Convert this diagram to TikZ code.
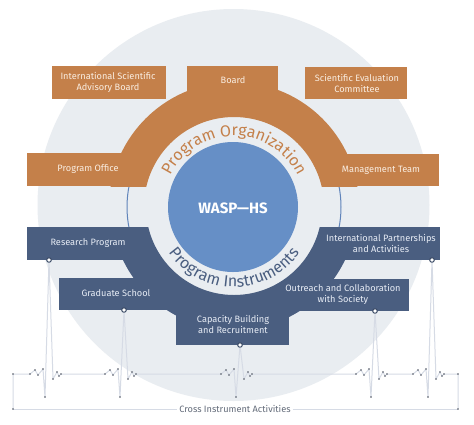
\documentclass[tikz,border=0pt]{standalone}
\usepackage{fontspec}
\setmainfont{Fira Sans}
\usetikzlibrary{decorations.text}
\definecolor{orng}{RGB}{196,128,74}
\definecolor{navy}{RGB}{74,94,128}
\definecolor{diskc}{RGB}{102,143,198}
\definecolor{bgc}{RGB}{233,237,241}
\definecolor{ringc}{RGB}{96,132,186}
\definecolor{ecg}{RGB}{214,219,229}
\definecolor{dotc}{RGB}{80,86,98}
\definecolor{otxt}{RGB}{250,238,226}
\definecolor{btxt}{RGB}{232,237,246}
\definecolor{gtxt}{RGB}{100,108,122}
\newcommand\orgfont{\fontsize{16}{16}\selectfont}
\tikzset{
  otext/.style={text=otxt, align=center, font=\fontsize{9.2}{11}\selectfont, inner sep=0pt},
  btext/.style={text=btxt, align=center, font=\fontsize{9.2}{11}\selectfont, inner sep=0pt},
  ecgline/.style={draw=ecg, line width=1pt, line join=round},
  vdot/.style={fill=dotc},
  boxdot/.style={circle, draw=navy!80!black, fill=white, line width=0.9pt, inner sep=0pt, minimum size=4.4pt},
}
\begin{document}
\begin{tikzpicture}[x=1pt,y=-1pt]
\useasboundingbox (0,0) rectangle (474,424);
\fill[white] (0,0) rectangle (474,424);
% big background circle
\fill[bgc] (233.5,205) circle[radius=196];
% thin ring
\draw[ringc, line width=1pt] (234,207) circle[radius=107];
% orange band
\begin{scope}
  \clip (0,0) rectangle (474,186);
  \fill[orng, even odd rule] (234,207) circle[radius=125] (234,207) circle[radius=90];
\end{scope}
\fill[orng] (187,66) rectangle (278,100);
\fill[orng] (27,153) rectangle (135,186);
\fill[orng] (333,154) rectangle (439,186);
\fill[orng] (52,66) rectangle (166,99);
\fill[orng] (305,67) rectangle (407,99);
% blue band
\begin{scope}
  \clip (0,227) rectangle (474,424);
  \fill[navy, even odd rule] (234,207) circle[radius=123] (234,207) circle[radius=88];
\end{scope}
\fill[navy] (27,227) rectangle (135,260);
\fill[navy] (333,227) rectangle (440,260);
\fill[navy] (59,278) rectangle (175,310);
\fill[navy] (293,279) rectangle (409,311);
\fill[navy] (176,300) rectangle (289,345);
% central disk
\fill[diskc] (233,207) circle[radius=65];
\node[text=white, font=\fontsize{15}{15}\selectfont\bfseries] (wasp) at (233,208) {WASP—HS};
% curved labels
\path[decorate, decoration={text along path, text align=center,
  text={|\orgfont\color{orng}|Program Organization}}]
  (234,207) ++(200:71) arc[start angle=200, end angle=340, radius=71];
\path[decorate, decoration={text along path, text align=center,
  text={|\orgfont\color{navy}|Program Instruments}}]
  (234,207) ++(160:80) arc[start angle=160, end angle=20, radius=80];
% box texts
\node[otext] (isab) at (108,82.5) {International Scientific\\Advisory Board};
\node[otext] (board) at (233,80) {Board};
\node[otext] (sec) at (357,83) {Scientific Evaluation\\Committee};
\node[otext] (po) at (88,169) {Program Office};
\node[otext] (mt) at (381,170) {Management Team};
\node[btext] (rp) at (88,243) {Research Program};
\node[btext] (ipa) at (381,243.5) {International Partnerships\\and Activities};
\node[btext] (gs) at (116,293) {Graduate School};
\node[btext] (ocs) at (343,294.5) {Outreach and Collaboration\\with Society};
\node[btext] (cbr) at (233,324.5) {Capacity Building\\and Recruitment};
% ECG line
\coordinate (L0) at (13,374);
\coordinate (L1) at (13,409);
\coordinate (R0) at (458,374);
\coordinate (R1) at (458,409);
\node[boxdot] (d1) at (49,260) {};
\node[boxdot] (d2) at (124,310) {};
\node[boxdot] (d3) at (240,345) {};
\node[boxdot] (d4) at (375,311) {};
\node[boxdot] (d5) at (432,260) {};
\node[text=gtxt, font=\fontsize{9.2}{10}\selectfont, fill=white, inner sep=2pt] (cia) at (235,409) {Cross Instrument Activities};
\draw[ecgline] (L1) -- (L0)
  \foreach \X/\P in {49/260,124/310,240/345,375/311,432/260}{
    -- (\X-19,374) -- (\X-14,370) -- (\X-11,375) -- (\X-6,369) -- (\X-4,397)
    -- (\X,\P) -- (\X+4,379) -- (\X+8,372) -- (\X+10,376) -- (\X+12,374)}
  -- (R0) -- (R1);
\draw[ecgline] (L1) -- (cia.west);
\draw[ecgline] (cia.east) -- (R1);
\foreach \X in {49,124,240,375,432}{
  \foreach \dx/\yy in {-19/374,-14/370,-11/375,-6/369,-4/397,4/379,8/372,10/376,12/374}{
    \fill[vdot] (\X+\dx,\yy) circle[radius=0.9];
  }
}
\foreach \c in {L0,L1,R0,R1}{\fill[vdot] (\c) circle[radius=0.9];}
\foreach \d in {d1,d2,d3,d4,d5}{\node[boxdot] at (\d) {};}
\end{tikzpicture}
\end{document}
